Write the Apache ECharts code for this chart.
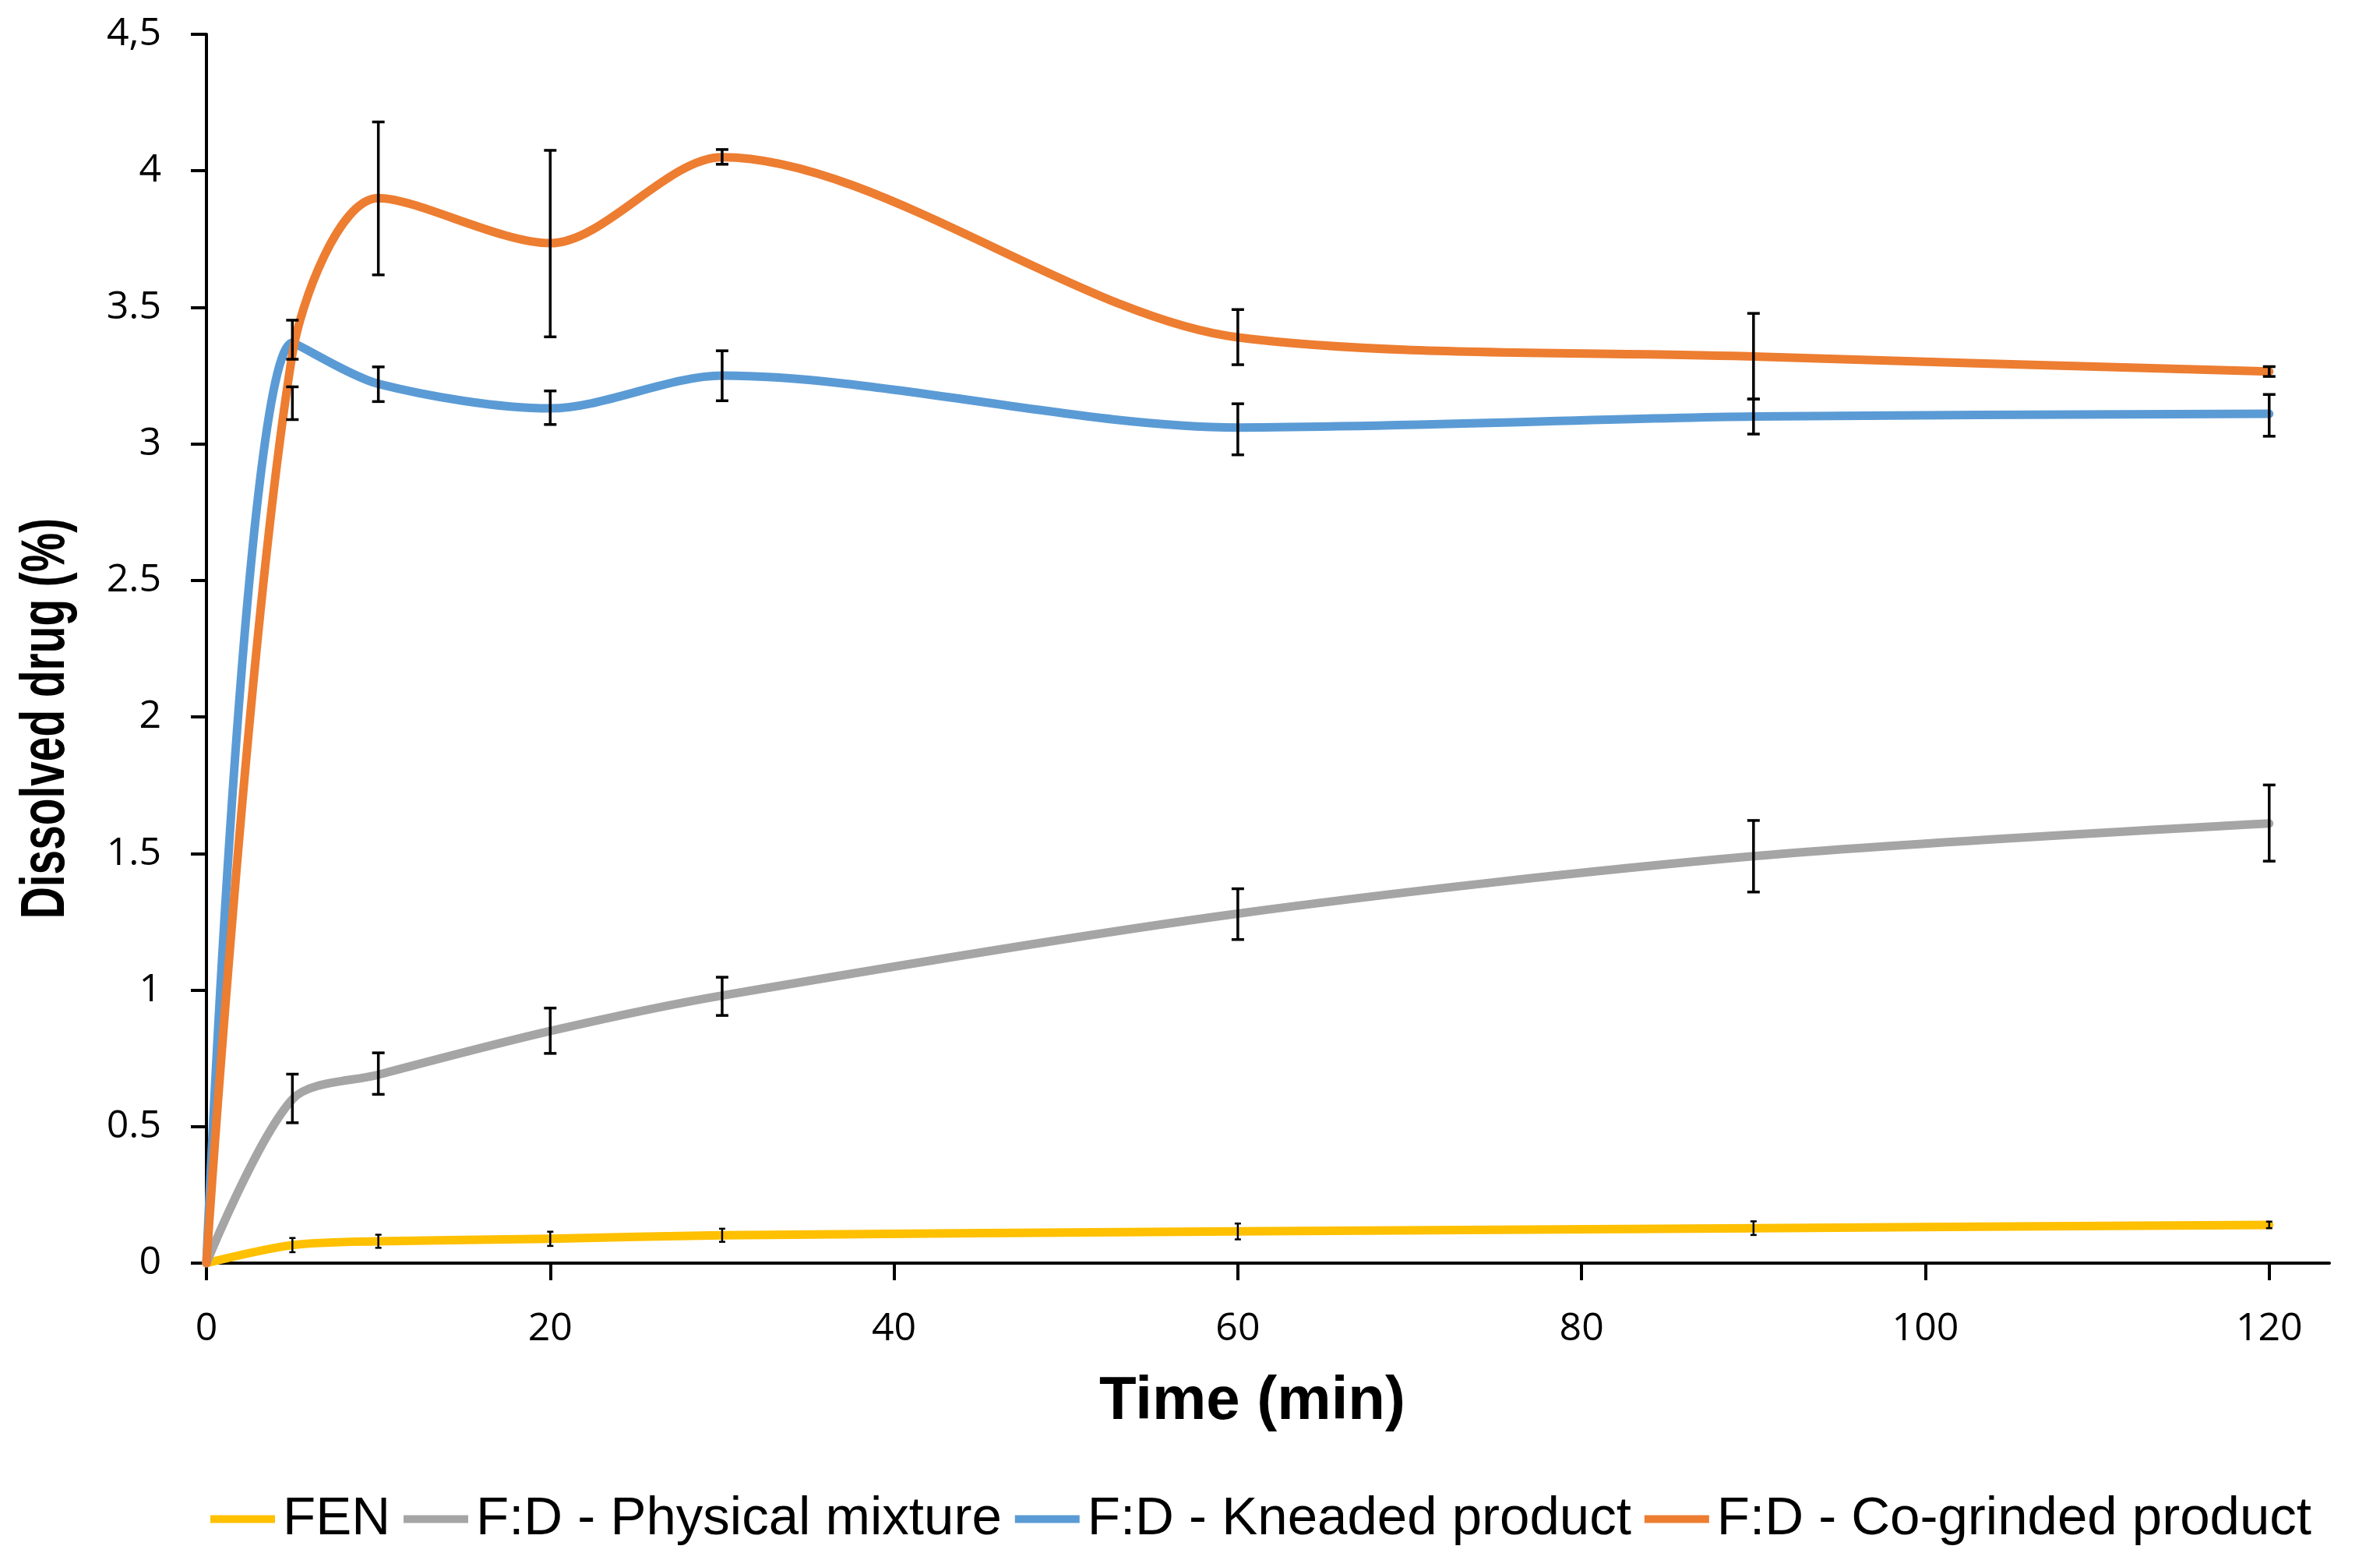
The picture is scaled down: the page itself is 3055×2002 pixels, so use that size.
<!DOCTYPE html>
<html>
<head>
<meta charset="utf-8">
<script src="https://cdn.jsdelivr.net/npm/echarts@6/dist/echarts.min.js"></script>
<style>
html,body{margin:0;padding:0;background:#ffffff;}
#chart{width:3055px;height:2002px;}
</style>
</head>
<body>
<div id="chart"></div>
<script>
// ---- data ----
const times = [0, 5, 10, 20, 30, 60, 90, 120];
const xTickLabels = [0, 20, 40, 60, 80, 100, 120];
const yTickLabels = ['0', '0.5', '1', '1.5', '2', '2.5', '3', '3.5', '4', '4,5'];

const seriesNames = ['FEN', 'F:D - Physical mixture', 'F:D - Kneaded product', 'F:D - Co-grinded product'];

const fenValues  = [0, 0.066, 0.080, 0.089, 0.102, 0.116, 0.128, 0.140];
const fenLow     = [0, 0.040, 0.056, 0.063, 0.078, 0.087, 0.103, 0.128];
const fenHigh    = [0, 0.092, 0.104, 0.115, 0.126, 0.145, 0.153, 0.152];

const physValues = [0, 0.60, 0.69, 0.85, 0.98, 1.28, 1.49, 1.61];
const physLow    = [0, 0.514, 0.618, 0.768, 0.907, 1.185, 1.359, 1.472];
const physHigh   = [0, 0.692, 0.770, 0.934, 1.047, 1.371, 1.621, 1.751];

const kneadValues = [0, 3.37, 3.22, 3.13, 3.25, 3.06, 3.10, 3.11];
const kneadLow    = [0, 3.089, 3.155, 3.071, 3.158, 2.960, 3.036, 3.028];
const kneadHigh   = [0, 3.209, 3.282, 3.194, 3.341, 3.147, 3.164, 3.181];

const grindValues = [0, 3.33, 3.90, 3.735, 4.05, 3.39, 3.32, 3.265];
const grindLow    = [0, 3.310, 3.619, 3.392, 4.024, 3.290, 3.164, 3.247];
const grindHigh   = [0, 3.453, 4.179, 4.075, 4.078, 3.492, 3.478, 3.283];

const colors = ['#FFC000', '#A5A5A5', '#5B9BD5', '#ED7D31'];

// ---- build options ----
const allValues = [fenValues, physValues, kneadValues, grindValues];
const allLow = [fenLow, physLow, kneadLow, grindLow];
const allHigh = [fenHigh, physHigh, kneadHigh, grindHigh];

function pairs(vals) { return times.map((t, i) => [t, vals[i]]); }
function errData(lo, hi) {
  const out = [];
  times.forEach((t, i) => { if (hi[i] > lo[i]) out.push([t, lo[i], hi[i]]); });
  return out;
}
function errRender(cap, lw) {
  return function (params, api) {
    const x = api.value(0), lo = api.value(1), hi = api.value(2);
    const p1 = api.coord([x, lo]);
    const p2 = api.coord([x, hi]);
    const st = { stroke: '#000000', lineWidth: lw };
    return {
      type: 'group',
      children: [
        { type: 'line', shape: { x1: p1[0], y1: p1[1], x2: p2[0], y2: p2[1] }, style: st },
        { type: 'line', shape: { x1: p1[0] - cap, y1: p1[1], x2: p1[0] + cap, y2: p1[1] }, style: st },
        { type: 'line', shape: { x1: p2[0] - cap, y1: p2[1], x2: p2[0] + cap, y2: p2[1] }, style: st }
      ]
    };
  };
}

const series = [];
seriesNames.forEach((name, k) => {
  series.push({
    name: name,
    type: 'line',
    data: pairs(allValues[k]),
    smooth: 0.3,
    showSymbol: false,
    symbol: 'none',
    lineStyle: { color: colors[k], width: 11, cap: 'round', join: 'round' },
    itemStyle: { color: colors[k] },
    z: 2 + k,
    animation: false
  });
});
seriesNames.forEach((name, k) => {
  series.push({
    name: name + ' error',
    type: 'custom',
    data: errData(allLow[k], allHigh[k]),
    encode: { x: 0, y: [1, 2] },
    renderItem: k === 0 ? errRender(4, 2.5) : errRender(8, 3.5),
    z: 10,
    silent: true,
    animation: false
  });
});

const chart = echarts.init(document.getElementById('chart'), null, { renderer: 'canvas' });
chart.setOption({
  backgroundColor: '#ffffff',
  animation: false,
  grid: { left: 265, right: 65, top: 44, bottom: 381, containLabel: false, outerBoundsMode: 'none' },
  xAxis: {
    type: 'value',
    min: 0,
    max: 123.5,
    interval: 20,
    name: 'Time (min)',
    nameLocation: 'middle',
    nameGap: 178,
    nameTextStyle: { fontFamily: '"Liberation Sans", Arial, sans-serif', fontWeight: 'bold', fontSize: 78, color: '#000', verticalAlign: 'middle', padding: [0, 40, 0, 0] },
    axisLine: { show: true, onZero: false, lineStyle: { color: '#000', width: 4 } },
    axisTick: { show: true, inside: false, length: 22, lineStyle: { color: '#000', width: 4 }, customValues: xTickLabels },
    axisLabel: { show: true, margin: 60, fontFamily: '"Open Sans", sans-serif', fontSize: 50, color: '#000', customValues: xTickLabels },
    splitLine: { show: false }
  },
  yAxis: {
    type: 'value',
    min: 0,
    max: 4.5,
    interval: 0.5,
    axisLine: { show: true, lineStyle: { color: '#000', width: 4 } },
    axisTick: { show: true, inside: false, length: 20, lineStyle: { color: '#000', width: 4 } },
    axisLabel: {
      show: true, margin: 58, fontFamily: '"Open Sans", sans-serif', fontSize: 50, color: '#000',
      formatter: function (v) { return yTickLabels[Math.round(v / 0.5)]; }
    },
    splitLine: { show: false }
  },
  legend: {
    data: seriesNames,
    left: 265,
    top: 1910,
    orient: 'horizontal',
    icon: 'rect',
    itemWidth: 83,
    itemHeight: 10,
    itemGap: 17,
    textStyle: { fontFamily: '"Liberation Sans", Arial, sans-serif', fontSize: 69, color: '#000', padding: [0, 0, 0, 5] }
  },
  graphic: [{
    type: 'text',
    x: 60,
    y: 922,
    rotation: Math.PI / 2,
    scaleX: 0.71,
    style: {
      text: 'Dissolved drug (%)',
      font: 'bold 80px "Liberation Sans", Arial, sans-serif',
      fill: '#000',
      align: 'center',
      verticalAlign: 'middle'
    }
  }],
  series: series
});
</script>
</body>
</html>
